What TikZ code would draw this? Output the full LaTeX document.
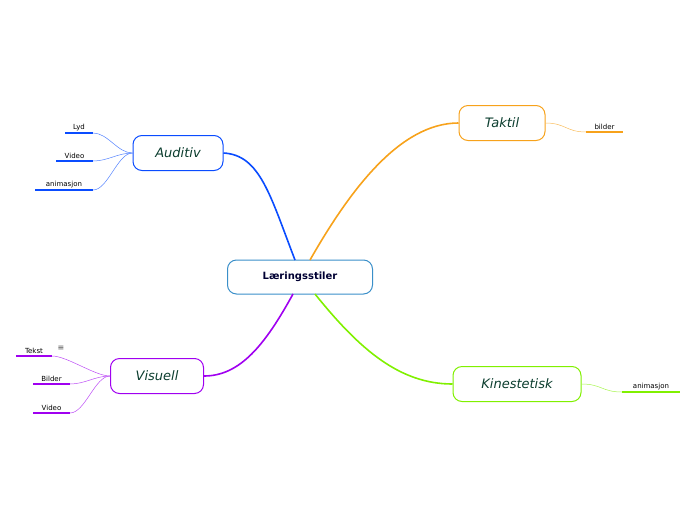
\documentclass[tikz,border=0pt]{standalone}
\usepackage{fontspec}
\setmainfont{DejaVu Sans}
\begin{document}
\begin{tikzpicture}[x=1pt,y=-1pt,
  topic/.style={draw,line width=1pt,rounded corners=9pt,minimum height=35pt,font=\itshape\fontsize{13}{15}\selectfont,text=tc},
  leaf/.style={font=\fontsize{7}{8}\selectfont,anchor=south,inner sep=2pt},
  uline/.style={line width=2pt},
  thin/.style={line width=0.5pt},
  main/.style={line width=1.6pt}]
\definecolor{tc}{HTML}{0B3D2E}
\definecolor{cb}{HTML}{0A4CFF}
\definecolor{co}{HTML}{F7A21B}
\definecolor{cp}{HTML}{A000F0}
\definecolor{cg}{HTML}{80F000}
\definecolor{cc}{HTML}{3A8FC9}
\useasboundingbox (0,0) rectangle (696,520);
\node[draw=cc,line width=1pt,rounded corners=9pt,minimum width=145pt,minimum height=34pt,font=\bfseries\fontsize{10}{12}\selectfont,text=black!80!blue] (c) at (300,277) {Læringsstiler};
\node[topic,draw=cb,minimum width=90pt] (a) at (178,153) {Auditiv};
\node[topic,draw=co,minimum width=86pt] (t) at (502,123) {Taktil};
\node[topic,draw=cp,minimum width=93pt] (v) at (157,376) {Visuell};
\node[topic,draw=cg,minimum width=128pt] (k) at (517,384) {Kinestetisk};
% main connectors
\coordinate (ca) at (295,260); \coordinate (ct) at (310,260);
\coordinate (cv) at (293,294); \coordinate (ck) at (315,294);
\draw[main,cb] (ca) .. controls (270,195) and (260,155) .. (a.east);
\draw[main,co] (ct) .. controls (350,190) and (400,123) .. (t.west);
\draw[main,cp] (cv) .. controls (265,345) and (240,376) .. (v.east);
\draw[main,cg] (ck) .. controls (360,350) and (400,384) .. (k.west);
% leaves
\foreach \n/\t/\xa/\xb/\y/\p/\col/\side in {
 l1/Lyd/65/93/133/a/cb/w, l2/Video/56/93/161/a/cb/w, l3/animasjon/35/93/190/a/cb/w,
 l4/Tekst/16/52/356/v/cp/w, l5/Bilder/33/70/384/v/cp/w, l6/Video/33/70/413/v/cp/w}{
  \coordinate (\n s) at (\xa,\y); \coordinate (\n e) at (\xb,\y);
  \draw[uline,\col] (\n s) -- (\n e);
  \node[leaf] (\n) at ({(\xa+\xb)/2},\y) {\t};
  \draw[thin,\col!70] (\p.west) .. controls +(-15,0) and +(15,0) .. (\n e);
}
\foreach \n/\t/\xa/\xb/\y/\p/\col in {
 l7/bilder/586/623/132/t/co, l8/animasjon/622/680/392/k/cg}{
  \coordinate (\n s) at (\xa,\y); \coordinate (\n e) at (\xb,\y);
  \draw[uline,\col] (\n s) -- (\n e);
  \node[leaf] (\n) at ({(\xa+\xb)/2},\y) {\t};
  \draw[thin,\col!70] (\p.east) .. controls +(20,0) and +(-20,0) .. (\n s);
}
\node[font=\fontsize{8}{9}\selectfont,text=black!70] (ic) at (61,348) {≡};
\end{tikzpicture}
\end{document}
